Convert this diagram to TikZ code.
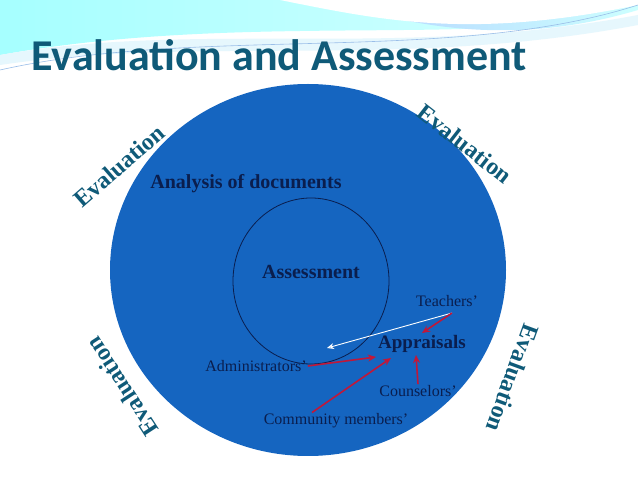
\documentclass[tikz,border=0pt]{standalone}
\usepackage{fontspec}
\setmainfont{Liberation Serif}
\newfontfamily\titlefont{Carlito}
\usetikzlibrary{arrows.meta}
\definecolor{bigblue}{HTML}{1565C0}
\definecolor{navy}{HTML}{0A1E4E}
\definecolor{teal}{HTML}{0F5A78}
\definecolor{red1}{HTML}{C0183A}
\tikzset{
 evl/.style={font=\bfseries\fontsize{24}{26}\selectfont, text=teal},
 lbl/.style={font=\fontsize{16}{18}\selectfont, text=navy, inner sep=1pt},
 blbl/.style={font=\bfseries\fontsize{20}{22}\selectfont, text=navy},
 rarr/.style={red1, line width=1.6pt, -{Stealth[length=8pt,width=7pt]}},
}
\begin{document}
\begin{tikzpicture}[x=1pt,y=-1pt]
\useasboundingbox (0,0) rectangle (638,478);
\fill[white] (0,0) rectangle (638,478);
% header swooshes
\shade[left color=cyan!35, right color=cyan!15] (0,0) -- (638,0) -- (638,8) .. controls (500,50) and (250,10) .. (0,55) -- cycle;
\fill[cyan!10!white] (0,55) .. controls (200,20) and (400,60) .. (638,15) -- (638,25) .. controls (400,70) and (200,35) .. (0,65) -- cycle;
\shade[left color=cyan!40!blue!30, right color=cyan!20] (330,0) .. controls (420,30) and (520,45) .. (638,10) -- (638,0) -- cycle;
\fill[white] (280,0) .. controls (380,20) and (470,40) .. (638,5) -- (638,0) -- cycle;
\draw[cyan!60!blue!40, line width=0.6pt] (0,70) .. controls (200,25) and (450,65) .. (638,5);
\node[anchor=west, font=\titlefont\bfseries\fontsize{44}{46}\selectfont, text=teal] (title) at (28,55) {Evaluation and Assessment};
% circles
\fill[bigblue] (308,270) ellipse [x radius=198, y radius=186];
\draw[navy, line width=0.8pt] (311,281) ellipse [x radius=78, y radius=83];
% evaluation labels
\node[evl, rotate=41] (e1) at (119,166) {Evaluation};
\node[evl, rotate=-38] (e2) at (465,144) {Evaluation};
\node[evl, rotate=-110] (e3) at (513,378) {Evaluation};
\node[evl, rotate=123] (e4) at (122,387) {Evaluation};
% texts
\node[blbl] (ana) at (246,184) {Analysis of documents};
\node[blbl] (ass) at (311,272) {Assessment};
\node[font=\bfseries\fontsize{19}{21}\selectfont, text=navy] (app) at (422,344) {Appraisals};
\node[lbl] (tea) at (447,301) {Teachers'};
\node[lbl] (adm) at (256,366) {Administrators'};
\node[lbl] (cou) at (418,391) {Counselors'};
\node[lbl] (com) at (336,421) {Community members'};
\coordinate (ws) at (452,313);
\coordinate (wend) at (327,348);
\draw[white, line width=0.9pt, -{Stealth[length=7pt,width=6pt,open]}] (ws) -- (wend);
\draw[rarr] (ws) -- (422,333);
\draw[rarr] (adm.east) -- (376,357);
\draw[rarr] ([xshift=-24pt]com.north) -- (391,358);
\draw[rarr] (cou.north) -- (416,355);
\end{tikzpicture}
\end{document}
